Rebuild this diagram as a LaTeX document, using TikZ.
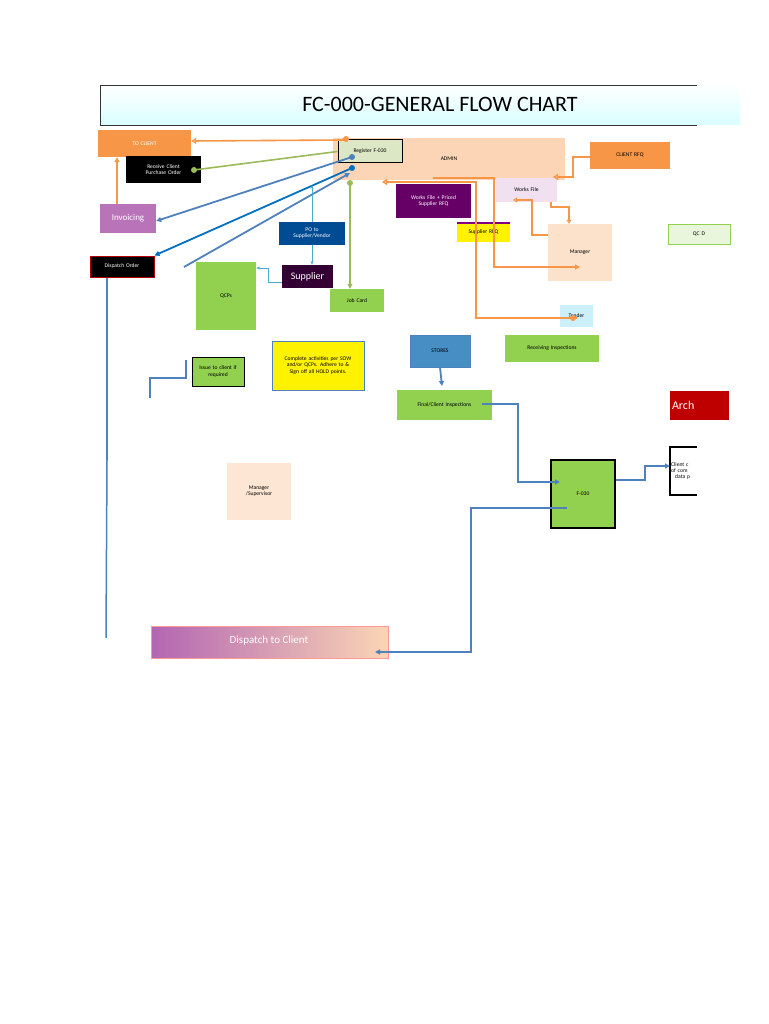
\documentclass[tikz,border=0pt]{standalone}
\usepackage{fontspec}
\setmainfont{Carlito}
\usetikzlibrary{arrows.meta}
\newcommand\bx[7]{\node[bxs,#6,minimum width={#4pt-#2pt},minimum height={#5pt-#3pt},text width={#4pt-#2pt-4pt}] (#1) at ({(#2+#4)/2},{(#3+#5)/2}) {#7};}
\definecolor{org}{HTML}{F79646}
\definecolor{peach}{HTML}{FBD5B5}
\definecolor{lgr}{HTML}{92D050}
\definecolor{bl}{HTML}{4F81BD}
\definecolor{dbl}{HTML}{0070C0}
\definecolor{lbl}{HTML}{4BACC6}
\definecolor{ogr}{HTML}{9BBB59}
\tikzset{bxs/.style={inner sep=1pt,align=center,font=\fontsize{5.6}{6.2}\selectfont},
 ol/.style={org,line width=1.6pt},
 bln/.style={bl,line width=1.8pt},
 tip/.style={-{Triangle[length=5pt,width=5pt]}}}
\begin{document}
\begin{tikzpicture}[x=1pt,y=-1pt]
\useasboundingbox (0,0) rectangle (768,1024);
\fill[white] (0,0) rectangle (768,1024);
% title
\shade[top color=white,bottom color=cyan!15] (100,85) rectangle (740,125);
\draw[black!80,line width=0.8pt] (697,85) -- (100,85) -- (100,125) -- (697,125);
\node[font=\fontsize{22}{24}\selectfont] (title) at (440,104) {FC-000-GENERAL FLOW CHART};
% boxes
\bx{admin}{333}{138}{565}{180}{fill=peach,text width=200pt}{\hspace*{0pt}ADMIN\hspace*{20pt}}
\bx{reg}{338}{140}{402}{163}{fill=ogr!35,draw=black,line width=1pt}{Register F-030}
\bx{toclient}{98}{130}{191}{157}{fill=org,text=white}{TO CLIENT}
\bx{rcpo}{126}{156}{201}{183}{fill=black,text=white}{Receive Client\\Purchase Order}
\bx{works}{496}{178}{557}{202}{fill=violet!12}{Works File}
\bx{crfq}{590}{142}{670}{169}{fill=org}{CLIENT RFQ}
\bx{wfp}{396}{184}{471}{218}{fill=violet!80!black,text=white}{Works File + Priced\\Supplier RFQ}
\bx{srfq}{457}{222}{510}{242}{fill=yellow}{Supplier RFQ}
\draw[violet,line width=1.5pt] (457,223) -- (510,223);
\bx{mgr}{548}{224}{612}{281}{fill=peach!70}{Manager}
\bx{qcd}{668}{224}{730}{244}{fill=lgr!20,draw=lgr}{QC D\hspace*{22pt}}
\bx{inv}{100}{204}{156}{233}{fill=violet!55,text=white,font=\fontsize{9}{10}\selectfont}{Invoicing}
\bx{disp}{90}{256}{154}{277}{fill=black,text=white,draw=red!70!black,line width=1pt}{Dispatch Order}
\bx{po}{279}{222}{345}{245}{fill=blue!40!black!70!cyan,text=white}{PO to\\Supplier/Vendor}
\bx{sup}{282}{265}{333}{288}{fill=violet!40!black,text=white,font=\fontsize{10}{11}\selectfont}{Supplier}
\bx{qcp}{196}{262}{256}{330}{fill=lgr}{QCPs}
\bx{job}{330}{289}{384}{312}{fill=lgr}{Job Card}
\bx{tender}{560}{305}{593}{327}{fill=cyan!20}{Tender}
\bx{stores}{410}{335}{470}{367}{fill=bl!90!cyan,draw=bl}{STORES}
\bx{rec}{505}{335}{599}{362}{fill=lgr}{Receiving Inspections}
\bx{issue}{192}{357}{244}{386}{fill=lgr,draw=black,line width=1pt}{Issue to client if\\required}
\bx{comp}{272}{341}{364}{390}{fill=yellow,draw=bl,line width=1pt}{Complete activities per SOW and/or QCPs. Adhere to \& Sign off all HOLD points.}
\bx{final}{397}{390}{492}{420}{fill=lgr}{Final/Client Inspections}
\bx{arch}{670}{391}{729}{420}{fill=red!75!black,text=white,font=\fontsize{12}{13}\selectfont,align=left}{Arch}
\bx{ms}{227}{463}{291}{520}{fill=peach!60}{Manager\\/Supervisor}
\bx{f030}{551}{460}{615}{528}{fill=lgr,draw=black,line width=2.2pt}{F-030}
\node[bxs,anchor=north west,minimum width=27pt,minimum height=48pt,text width=26pt,align=left] (cc) at (670,447) {Client c\\of com\\\hspace*{4pt}data p};
\draw[black,line width=1.2pt] (697,447) -- (670,447) -- (670,495) -- (697,495);
\shade[left color=violet!60,right color=peach] (151,626) rectangle (388,658);
\draw[red!40] (151,626) rectangle (388,658);
\node[font=\fontsize{11}{12}\selectfont,text=white] (dtc) at (269,641) {Dispatch to Client};
\coordinate (dtcR) at (375,652);
% connectors
\draw[ol,-{Triangle[open,length=5pt,width=6pt]}] (346,140) -- (toclient.east|-0,141);
\fill[org] (346,139) circle (3pt);
\draw[ogr,line width=1.6pt] (reg.west) -- (194,170);
\fill[ogr] (194,170) circle (3pt);
\draw[bln,tip] (352,157) -- (inv.east|-0,221);
\fill[bl] (352,157) circle (3pt);
\draw[dbl,line width=1.8pt,tip] (352,168) -- (disp.north east);
\fill[dbl] (352,168) circle (3pt);
\coordinate (bl1) at (184,267);
\draw[bln,tip] (bl1) -- (350,173);
\draw[lbl,line width=0.8pt,-{Stealth[length=4pt]}] (po.north) -- (po.north|-0,185);
\draw[lbl,line width=0.8pt,-{Stealth[length=4pt]}] (po.south) -- (sup.north-|po.south);
\draw[lbl,line width=0.8pt,-{Stealth[length=4pt]}] (sup.west|-0,282) -- (268,282) -- (268,268) -- (qcp.east|-0,268);
\draw[ogr,line width=1.8pt,tip] (350,183) -- (job.north-|350,0);
\fill[ogr] (350,183) circle (3pt);
\draw[ol,tip] (inv.north-|117,0) -- (toclient.south-|117,0);
\draw[ol,-{Triangle[open,length=5pt,width=6pt]}] (crfq.west|-0,157) -- (573,157) -- (573,177) -- (553,177);
\draw[ol,tip] (433,178) -- (494,178) -- (494,267) -- (mgr.center|-0,267);
\draw[ol,-{Triangle[open,length=5pt,width=6pt]}] (tender.center|-0,318) -- (476,318) -- (476,182) -- (382,182);
\fill[org] (573,318) circle (3pt);
\draw[ol,line width=1.2pt,-{Triangle[open,length=4pt,width=5pt]}] (mgr.west|-0,235) -- (532,235) -- (532,200) -- (513,200);
\draw[ol,line width=1.2pt,-{Triangle[open,length=4pt,width=5pt]}] (551,202) -- (551,207) -- (569,207) -- (mgr.north-|569,0);
\draw[bln,tip] (stores.south) -- (442,386);
\draw[bln,tip] (482,404) -- (518,404) -- (518,482) -- (560,482);
\draw[bln,tip] (567,508) -- (471,508) -- (471,652) -- (dtcR);
\draw[bln,tip] (f030.east|-0,480) -- (645,480) -- (645,466) -- (cc.west|-0,466);
\coordinate (ia) at (186,360);
\coordinate (ib) at (150,398);
\draw[bln] (ia) -- (186,378) -- (150,378) -- (ib);
\coordinate (dv) at (107,460);
\coordinate (dv2) at (106,638);
\draw[bln] (disp.south-|107,0) -- (dv);
\draw[bl,line width=1.5pt] (dv) -- (dv2);
\end{tikzpicture}
\end{document}
